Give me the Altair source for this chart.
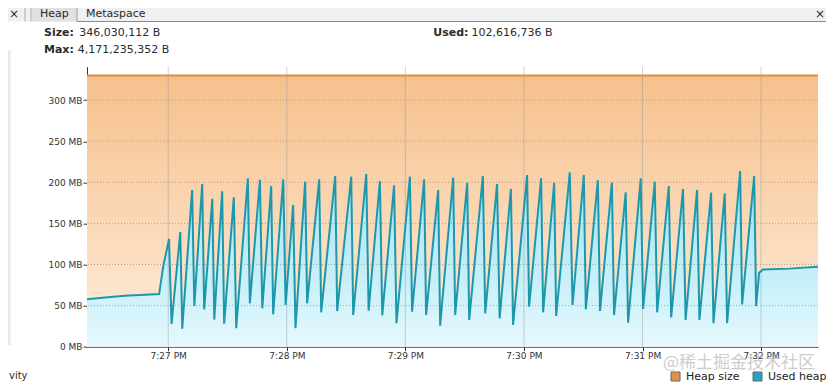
import altair as alt
import pandas as pd

# ---------------- data ----------------
# time in seconds relative to 7:27:00 PM, used heap in MB
used_t = [-41.1, -31.9, -21.9, -14.3, -4.6, -2.5, 0.4, 1.7, 6.1, 7.1,
          12.1, 13.2, 17.2, 18.2, 22.3, 23.3, 27.3, 28.3, 33.2, 34.4,
          40.3, 41.3, 46.4, 47.6, 52.1, 53.1, 58.2, 59.4, 63.2, 64.4,
          69.3, 70.3, 76.4, 77.4, 84.5, 85.5, 92.6, 93.6, 100.2, 101.4,
          107.1, 108.3, 114.3, 115.5, 122.3, 123.4, 129.5, 130.5, 136.6, 137.6,
          144.2, 145.2, 151.3, 152.3, 159.2, 160.4, 166.4, 167.7, 173.4, 174.5,
          181.6, 182.6, 188.7, 189.7, 195.3, 196.3, 203.2, 204.6, 210.3, 211.3,
          217.4, 218.5, 224.5, 225.6, 231.5, 232.7, 239.1, 240.3, 246.2, 247.4,
          253.3, 254.5, 260.5, 261.8, 267.6, 268.8, 274.7, 275.9, 281.6, 282.8,
          289.4, 290.4, 296.5, 297.5, 299.0, 301.0, 314.5, 328.8]
used_mb = [57.7, 60, 62, 63, 64, 98, 131, 27.6, 139.6, 22,
           190.7, 49.5, 198, 45.5, 180, 33, 189, 28, 181.8, 22.4,
           205, 52.8, 203, 46.7, 195.5, 39.4, 203.7, 50.7, 172.4, 22.4,
           200.8, 52.8, 203.7, 41.8, 207.7, 43.4, 206.9, 38.6, 210, 43.8,
           201.6, 38.2, 196.4, 28.5, 206.9, 42.6, 203.7, 38.6, 190.7, 25.6,
           205.7, 38.6, 199.6, 32.5, 207.7, 40.6, 198, 34.5, 191.9, 26.4,
           208.9, 48.7, 204.9, 41.8, 199.6, 37.4, 212.2, 50.7, 208.9, 45.5,
           202.8, 43.4, 199.6, 38.6, 187.9, 29.2, 204.9, 45.9, 200.8, 41.8,
           195.5, 35.7, 191.9, 32.5, 190.7, 32.5, 187.4, 28.5, 186.6, 28.5,
           213.8, 51.5, 207.7, 49.5, 90, 94, 95, 97.3]
assert len(used_t) == len(used_mb)

heap_t = [-41.1, 328.8]
heap_mb = [330, 330]

x_domain_sec = [-41.1, 328.8]
x_tick_sec = [0, 60, 120, 180, 240, 300]
y_domain = [0, 340.7]
y_ticks = [0, 50, 100, 150, 200, 250, 300]
series_names = ["Heap size", "Used heap"]
line_colors = ["#e38b3e", "#1c98ad"]
legend_colors = ["#e0924a", "#2aa3c0"]

size_label, size_value = "Size:", "346,030,112 B"
max_label, max_value = "Max:", "4,171,235,352 B"
used_label, used_value = "Used:", "102,616,736 B"
tab_labels = ["Heap", "Metaspace"]
close_mark = "×"
side_label = "vity"          # visible end of the neighbouring panel's "Activity" tab
watermark = "@稀土掘金技术社区"

# ---------------- helpers ----------------
BASE = pd.Timestamp("2024-01-01 19:27:00")


def _ts(sec):
    return (BASE + pd.Timedelta(seconds=sec)).round("ms")


def iso(sec):
    ts = _ts(sec)
    return ts.strftime("%Y-%m-%dT%H:%M:%S") + ".%03d" % (ts.microsecond // 1000)


def dt(sec):
    ts = _ts(sec)
    return alt.DateTime(year=ts.year, month=ts.month, date=ts.day, hours=ts.hour,
                        minutes=ts.minute, seconds=ts.second,
                        milliseconds=ts.microsecond // 1000)


used_df = pd.DataFrame({"t": [iso(s) for s in used_t], "mb": used_mb})
heap_df = pd.DataFrame({"t": [iso(s) for s in heap_t], "mb": heap_mb})
hgrid_df = pd.DataFrame({"mb": y_ticks[1:]})
vgrid_df = pd.DataFrame({"t": [iso(s) for s in x_tick_sec]})
legend_df = pd.DataFrame({"series": series_names})

# layout (page pixel -> plot-relative pixel)
PAD_L, PAD_T, PAD_R, PAD_B = 79, 58.7, 8, 35.3
W, H = 731, 280
OX, OY = 8 + PAD_L, 8 + PAD_T


def px(x):
    return x - OX


def py(y):
    return y - OY


FONT = "DejaVu Sans"

x_enc = alt.X("t:T",
              scale=alt.Scale(domain=[dt(s) for s in x_domain_sec]),
              axis=alt.Axis(values=[dt(s) for s in x_tick_sec], format="%-I:%M %p",
                            tickSize=4, labelPadding=1, grid=False, labelFlush=False),
              title=None)
y_enc = alt.Y("mb:Q",
              scale=alt.Scale(domain=y_domain, nice=False, zero=True),
              axis=alt.Axis(values=y_ticks, labelExpr="datum.value + ' MB'",
                            tickSize=4, labelPadding=1, grid=False, labelFlush=False),
              title=None)

orange_grad = alt.Gradient(gradient="linear", x1=0, x2=0, y1=0, y2=1, stops=[
    alt.GradientStop(color="#f5c08c", offset=0),
    alt.GradientStop(color="#fbdbbb", offset=0.6),
    alt.GradientStop(color="#feeede", offset=1)])
cyan_grad = alt.Gradient(gradient="linear", x1=0, x2=0, y1=0, y2=1, stops=[
    alt.GradientStop(color="#a3e1f1", offset=0),
    alt.GradientStop(color="#c6eff9", offset=0.6),
    alt.GradientStop(color="#e6f8fd", offset=1)])

heap_area = alt.Chart(heap_df).mark_area(color=orange_grad).encode(x=x_enc, y=y_enc)
used_area = alt.Chart(used_df).mark_area(color=cyan_grad).encode(x=x_enc, y=y_enc)
hgrid = alt.Chart(hgrid_df).mark_rule(color="#a5896e", strokeDash=[1, 2], opacity=0.7,
                                     strokeWidth=1).encode(y=y_enc)
vgrid = alt.Chart(vgrid_df).mark_rule(color="#999999", opacity=0.45,
                                     strokeWidth=1).encode(x=x_enc)
heap_line = alt.Chart(heap_df).mark_line(strokeWidth=2, color=line_colors[0]).encode(x=x_enc, y=y_enc)
used_line = alt.Chart(used_df).mark_line(strokeWidth=2, color=line_colors[1]).encode(x=x_enc, y=y_enc)

# legend-only layer (its own marks are fully transparent)
legend_layer = alt.Chart(legend_df).mark_square(filled=True, opacity=0, size=81).encode(
    color=alt.Color(
        "series:N",
        scale=alt.Scale(domain=series_names, range=legend_colors),
        legend=alt.Legend(
            title=None, orient="none", legendX=px(670), legendY=py(371),
            direction="horizontal", symbolType="square", symbolSize=81,
            symbolOpacity=1, symbolStrokeWidth=1, symbolStrokeColor="#666666",
            labelFont=FONT, labelFontSize=11, labelColor="#222222",
            labelOffset=5, columnPadding=11, padding=0,
        ),
    )
)


def deco_text(txt, x, y, size=11, weight="normal", color="#2b2b2b", align="left",
              font=FONT, opacity=1.0):
    return alt.Chart(alt.Data(values=[{"label": txt}])).mark_text(
        align=align, baseline="middle", fontSize=size, fontWeight=weight,
        color=color, font=font, opacity=opacity
    ).encode(x=alt.value(px(x)), y=alt.value(py(y)), text="label:N")


def deco_rect(x1, x2, y1, y2, color):
    return alt.Chart(alt.Data(values=[{}])).mark_rect(color=color).encode(
        x=alt.value(px(x1)), x2=alt.value(px(x2)), y=alt.value(py(y1)), y2=alt.value(py(y2)))


def deco_rule(x1, x2, y1, y2, color, width=1):
    return alt.Chart(alt.Data(values=[{}])).mark_rule(color=color, strokeWidth=width).encode(
        x=alt.value(px(x1)), x2=alt.value(px(x2)), y=alt.value(py(y1)), y2=alt.value(py(y2)))


TAB_TOP, TAB_BOTTOM, TAB_MID = 8, 21.5, 14.5
decor = [
    # tab bar (shifted below the page margin so its texts stay visible)
    deco_rect(8, 826, TAB_TOP, TAB_BOTTOM, "#f0f0f0"),
    deco_rect(32, 77, TAB_TOP, TAB_BOTTOM, "#e1e1e1"),
    deco_rule(77, 826, TAB_BOTTOM, TAB_BOTTOM, "#8a8a8a"),
    deco_rule(25, 25, TAB_TOP, TAB_BOTTOM, "#aaaaaa"),
    deco_rule(31, 31, TAB_TOP, TAB_BOTTOM, "#aaaaaa"),
    deco_rule(77, 77, TAB_TOP, TAB_BOTTOM, "#999999"),
    deco_text(close_mark, 14, TAB_MID, size=12, align="center"),
    deco_text(close_mark, 820, TAB_MID, size=12, align="center"),
    deco_text(tab_labels[0], 40, TAB_MID, size=11),
    deco_text(tab_labels[1], 86, TAB_MID, size=11),
    # left side panel edge
    deco_rect(8, 10.5, 50, 345, "#e9e9e9"),
    deco_text(side_label, 9, 376, size=10, align="left"),
    # header
    deco_text(size_label, 44, 33, weight="bold"),
    deco_text(size_value, 79.3, 33),
    deco_text(max_label, 44, 50, weight="bold"),
    deco_text(max_value, 77.7, 50),
    deco_text(used_label, 433.3, 33, weight="bold"),
    deco_text(used_value, 471.5, 33),
    # watermark
    deco_text(watermark, 663, 363, size=17, color="#bdbdbd",
              font="Noto Sans CJK SC", opacity=0.75),
]

chart = alt.layer(heap_area, used_area, hgrid, vgrid, heap_line, used_line,
                  legend_layer, *decor).properties(
    width=W, height=H,
    autosize=alt.AutoSizeParams(type="none"),
    padding={"left": PAD_L, "top": PAD_T, "right": PAD_R, "bottom": PAD_B},
    background="white",
).configure_view(
    strokeWidth=0, fill="#ececec"
).configure_axis(
    domainColor="#333333", tickColor="#333333", labelColor="#333333",
    labelFont=FONT, labelFontSize=9, domainWidth=1, tickWidth=1,
)

chart.save("out.html", embed_options={"renderer": "svg", "actions": False})
